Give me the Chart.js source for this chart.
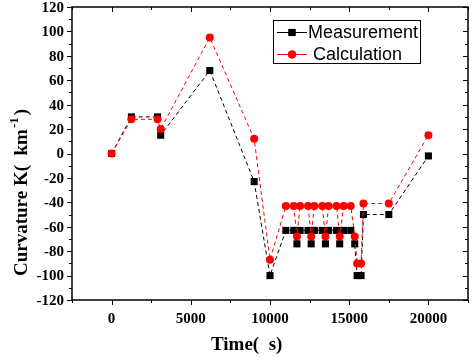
<!DOCTYPE html>
<html>
<head>
<meta charset="utf-8">
<script src="https://cdn.jsdelivr.net/npm/chart.js@4/dist/chart.umd.min.js"></script>
<style>
    body { margin: 0; background: #fff; }
    #wrap { width: 474px; height: 363px; }
</style>
</head>
<body>
<div id="wrap"><canvas id="curvatureChart" width="474" height="363"></canvas></div>
<script>
// 數據
const timeS = [0, 1250, 2900, 3100, 6200, 9000, 10000, 11000, 11500, 11700, 11900, 12400, 12600, 12800,
    13300, 13500, 13700, 14200, 14400, 14650, 15100, 15350, 15500, 15750, 15900, 17500, 20000];
const measurement = [0, 30, 30, 15, 68, -23, -100, -63, -63, -74, -63, -63, -74, -63,
    -63, -74, -63, -63, -74, -63, -63, -74, -100, -100, -50, -50, -2];
const calculation = [0, 28, 28, 20, 95, 12, -87, -43, -43, -68, -43, -43, -68, -43,
    -43, -68, -43, -43, -68, -43, -43, -68, -90, -90, -41, -41, 15];
const xTickLabels = [0, 5000, 10000, 15000, 20000];
const yTickLabels = [-120, -100, -80, -60, -40, -20, 0, 20, 40, 60, 80, 100, 120];

const serif = '"Liberation Serif", "DejaVu Serif", serif';
const sans = '"Liberation Sans", Arial, sans-serif';

function toPoints(ys) {
    return timeS.map((t, i) => ({ x: t, y: ys[i] }));
}

// 外框、刻度、標題與圖例
const framePlugin = {
    id: 'frame',
    afterDraw(chart) {
        const { ctx, chartArea: a, scales: { x, y } } = chart;
        ctx.save();
        ctx.strokeStyle = '#000';
        ctx.lineWidth = 1.5;
        ctx.strokeRect(a.left, a.top, a.right - a.left, a.bottom - a.top);

        ctx.lineWidth = 1;
        ctx.beginPath();
        for (let v = -2500; v <= 22500; v += 2500) {
            const px = Math.round(x.getPixelForValue(v)) + 0.5;
            const len = v % 5000 === 0 ? 5 : 3;
            ctx.moveTo(px, a.bottom); ctx.lineTo(px, a.bottom + len);
            ctx.moveTo(px, a.top); ctx.lineTo(px, a.top + len);
        }
        for (let v = -120; v <= 120; v += 10) {
            const py = Math.round(y.getPixelForValue(v)) + 0.5;
            const len = v % 20 === 0 ? 5 : 3;
            ctx.moveTo(a.left, py); ctx.lineTo(a.left - len, py);
            ctx.moveTo(a.right, py); ctx.lineTo(a.right - len, py);
        }
        ctx.stroke();

        ctx.fillStyle = '#000';
        ctx.font = 'bold 15px ' + serif;
        ctx.textAlign = 'right';
        ctx.textBaseline = 'middle';
        yTickLabels.forEach(v => ctx.fillText(String(v), a.left - 8, y.getPixelForValue(v) + 1));
        ctx.textAlign = 'center';
        ctx.textBaseline = 'alphabetic';
        xTickLabels.forEach(v => ctx.fillText(String(v), x.getPixelForValue(v), a.bottom + 23));

        // 軸標題
        ctx.font = 'bold 19px ' + serif;
        ctx.textAlign = 'left';
        ctx.fillText('Time(  s)', 211, 350);

        ctx.save();
        ctx.translate(27, 276);
        ctx.rotate(-Math.PI / 2);
        const main = 'Curvature K(  km';
        ctx.fillText(main, 0, 0);
        const w = ctx.measureText(main).width;
        ctx.font = 'bold 13px ' + serif;
        ctx.fillText('-1', w + 1, -9);
        const w2 = ctx.measureText('-1').width;
        ctx.font = 'bold 19px ' + serif;
        ctx.fillText(')', w + w2 + 3, 0);
        ctx.restore();

        // 圖例
        ctx.lineWidth = 1;
        ctx.strokeRect(273.5, 20.5, 147, 43);
        const items = [
            { label: 'Measurement', color: '#000', style: 'rect', r: 5, y: 32, tx: 308 },
            { label: 'Calculation', color: '#ff0000', style: 'circle', r: 4, y: 54, tx: 313 }
        ];
        ctx.font = '18px ' + sans;
        ctx.textBaseline = 'middle';
        items.forEach(it => {
            ctx.strokeStyle = it.color;
            ctx.beginPath();
            ctx.moveTo(277, it.y + 0.5); ctx.lineTo(307, it.y + 0.5);
            ctx.stroke();
            ctx.fillStyle = it.color;
            Chart.helpers.drawPoint(ctx, { pointStyle: it.style, radius: it.r, borderWidth: 0 }, 292, it.y + 0.5);
            ctx.fill();
            ctx.fillStyle = '#000';
            ctx.fillText(it.label, it.tx, it.y + 1);
        });
        ctx.restore();
    }
};

const chart = new Chart(document.getElementById('curvatureChart').getContext('2d'), {
    type: 'scatter',
    data: {
        datasets: [{
            label: 'Measurement',
            data: toPoints(measurement),
            showLine: true,
            borderColor: '#000',
            backgroundColor: '#000',
            borderWidth: 1,
            borderDash: [4, 3],
            pointStyle: 'rect',
            pointRadius: 5,
            pointBorderWidth: 0,
            order: 2
        }, {
            label: 'Calculation',
            data: toPoints(calculation),
            showLine: true,
            borderColor: '#ff0000',
            backgroundColor: '#ff0000',
            borderWidth: 1,
            borderDash: [4, 3],
            pointStyle: 'circle',
            pointRadius: 4,
            pointBorderWidth: 0,
            order: 1
        }]
    },
    options: {
        responsive: false,
        animation: false,
        layout: { padding: { left: 0, top: 7, right: 6, bottom: 0 } },
        plugins: {
            legend: { display: false },
            tooltip: { enabled: false }
        },
        scales: {
            x: {
                type: 'linear',
                min: -2500,
                max: 22500,
                grid: { display: false },
                border: { display: false },
                ticks: { display: false },
                afterFit(scale) { scale.height = 63; }
            },
            y: {
                min: -120,
                max: 120,
                grid: { display: false },
                border: { display: false },
                ticks: { display: false },
                afterFit(scale) { scale.width = 72; }
            }
        }
    },
    plugins: [framePlugin]
});
</script>
</body>
</html>
